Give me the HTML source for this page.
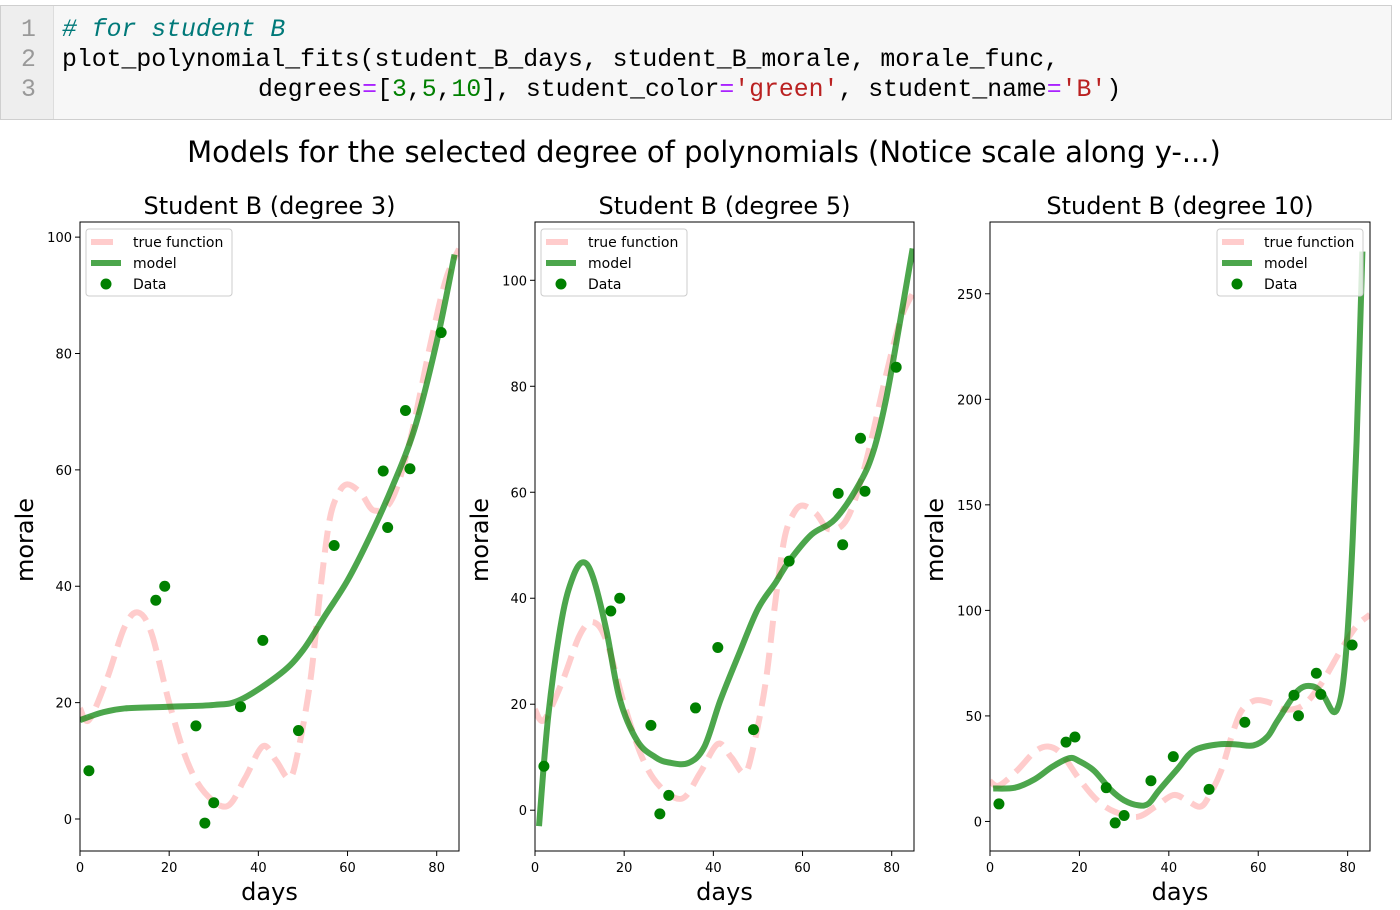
<!DOCTYPE html>
<html><head><meta charset="utf-8">
<style>
body{margin:0;width:1400px;height:910px;background:#fff;overflow:hidden;font-family:"DejaVu Sans","Liberation Sans",sans-serif;}
#cell{position:absolute;left:0;top:5px;width:1390px;height:113px;background:#f7f7f7;border:1px solid #cfcfcf;}
#gutter{position:absolute;left:0;top:0;width:52px;height:113px;background:#eeeeee;border-right:1px solid #ddd;}
.ln{position:absolute;left:20px;font-family:"Liberation Mono",monospace;font-size:24.8px;color:#999;}
.code{position:absolute;font-family:"Liberation Mono",monospace;font-size:24.8px;white-space:pre;color:#000;}
.c{color:#007979;font-style:italic}.p{color:#aa22ff}.g{color:#008000}.r{color:#ba2121}
</style></head><body>
<div id="cell">
<div id="gutter">
<div class="ln" style="top:10px">1</div><div class="ln" style="top:40px">2</div><div class="ln" style="top:70px">3</div></div>
<div class="code" style="left:61px;top:10px"><span class="c"># for student B</span></div>
<div class="code" style="left:61px;top:40px">plot_polynomial_fits(student_B_days, student_B_morale, morale_func,</div>
<div class="code" style="left:257px;top:70px">degrees<span class="p">=</span>[<span class="g">3</span>,<span class="g">5</span>,<span class="g">10</span>], student_color<span class="p">=</span><span class="r">'green'</span>, student_name<span class="p">=</span><span class="r">'B'</span>)</div>
</div>
<svg id="fig" width="1400" height="910" style="position:absolute;left:0;top:0">
<text x="704" y="162" font-size="29" text-anchor="middle">Models for the selected degree of polynomials (Notice scale along y-...)</text>
</svg>
<script>
const days=[2,17,19,26,28,30,36,41,49,57,68,69,73,74,81];
const morale=[8.3,37.6,40,16,-0.7,2.8,19.3,30.7,15.2,47,59.8,50.1,70.2,60.2,83.6];
const trueX=[0,2,6,10,13,16,20,24,28,33,37,41,44,47,49,51.7,54,56,58,60,63,66,70,74,78.7,82,85];
const trueY=[19,17,24,33,35.5,32,20,10,4.5,2.2,7,12.5,10,7,12,24,40,51.5,56,57.5,56,53,55,65,82,92.6,98];
const m3X=[0,5,10,20,30,36,45,50,55,60,65,70,75,80,84];
const m3Y=[17,18.3,19,19.3,19.6,20.5,25,29,35,41,48.5,57,67,82,97];
const m5X=[0.9,3,6,8.5,10.8,13,16,19,23,27,30,34.4,38,41.6,46,50,54,57,62,67.4,73,76,78.6,81,84.7];
const m5Y=[-3,18,36,44,46.8,44,34,21,13,10,9,8.9,12,20.8,30,38,43,47,52,55,62,68,77,88,106];
const m10X=[0.7,5.6,10,14,17.8,20,23.3,27,30,33.3,35.5,37.8,42,45.6,51,55,58.9,62,64.4,68.9,72.2,74.5,76.7,78,79,80,81,82,83.3];
const m10Y=[15.6,16,20,26,30,28.5,24,15,10,7.6,8.5,14.7,25,33.6,36.5,36.5,36,40,48,62,64,60,52,55,66,90,128,180,270];
const xTicks=[0,20,40,60,80];
const panels=[
 {name:'degree-3',title:'Student B (degree 3)',x0:80,x1:459,ymin:-5.5,ymax:102.6,yt:[0,20,40,60,80,100],mx:m3X,my:m3Y,legend:86},
 {name:'degree-5',title:'Student B (degree 5)',x0:535,x1:914,ymin:-7.7,ymax:111,yt:[0,20,40,60,80,100],mx:m5X,my:m5Y,legend:541},
 {name:'degree-10',title:'Student B (degree 10)',x0:990,x1:1370,ymin:-14,ymax:284,yt:[0,50,100,150,200,250],mx:m10X,my:m10Y,legend:1217}];
const NS='http://www.w3.org/2000/svg';
const svg=document.getElementById('fig');
function mk(tag,attrs,parent){const e=document.createElementNS(NS,tag);for(const k in attrs)e.setAttribute(k,attrs[k]);(parent||svg).appendChild(e);return e;}
function smooth(X,Y,sx,sy){
 const P=X.map((x,i)=>[sx(x),sy(Y[i])]);let d='M'+P[0][0]+','+P[0][1];
 for(let i=0;i<P.length-1;i++){const p0=P[Math.max(0,i-1)],p1=P[i],p2=P[i+1],p3=P[Math.min(P.length-1,i+2)];
  d+=' C'+(p1[0]+(p2[0]-p0[0])/6)+','+(p1[1]+(p2[1]-p0[1])/6)+' '+(p2[0]-(p3[0]-p1[0])/6)+','+(p2[1]-(p3[1]-p1[1])/6)+' '+p2[0]+','+p2[1];}
 return d;}
const yTop=222,yBot=851;
panels.forEach(pn=>{
 const sx=v=>pn.x0+(v-0)/(85-0)*(pn.x1-pn.x0);
 const sy=v=>yBot-(v-pn.ymin)/(pn.ymax-pn.ymin)*(yBot-yTop);
 const g=mk('g',{});
 
 
 const cp='clip-'+pn.name;
 const cl=mk('clipPath',{id:cp},g);mk('rect',{x:pn.x0,y:yTop,width:pn.x1-pn.x0,height:yBot-yTop},cl);
 const t=mk('text',{x:(pn.x0+pn.x1)/2,y:214,'font-size':24,'text-anchor':'middle'},g);t.textContent=pn.title;
 
 
 const tl=mk('path',{d:smooth(trueX,trueY,sx,sy),fill:'none',stroke:'rgba(255,0,0,0.2)','stroke-width':6,'stroke-dasharray':'22,10','clip-path':'url(#'+cp+')'},g);
 
 
 const ml=mk('path',{d:smooth(pn.mx,pn.my,sx,sy),fill:'none',stroke:'rgba(0,128,0,0.7)','stroke-width':6,'clip-path':'url(#'+cp+')'},g);
 
 
 days.forEach((d,i)=>{const c=mk('circle',{cx:sx(d),cy:sy(morale[i]),r:5.5,fill:'#008000'},g);
  
  });
 mk('rect',{x:pn.x0,y:yTop,width:pn.x1-pn.x0,height:yBot-yTop,fill:'none',stroke:'#000','stroke-width':1},g);
 xTicks.forEach(v=>{const x=sx(v);mk('line',{x1:x,x2:x,y1:yBot,y2:yBot+5,stroke:'#000'},g);
  const tx=mk('text',{x:x,y:yBot+21,'font-size':13,'text-anchor':'middle'},g);tx.textContent=v;
  
  });
 pn.yt.forEach(v=>{const y=sy(v);mk('line',{x1:pn.x0-5,x2:pn.x0,y1:y,y2:y,stroke:'#000'},g);
  const ty=mk('text',{x:pn.x0-8,y:y+5,'font-size':13,'text-anchor':'end'},g);ty.textContent=v;
  
  });
 const xl=mk('text',{x:(pn.x0+pn.x1)/2,y:900,'font-size':24,'text-anchor':'middle'},g);xl.textContent='days';
 
 
 const yx=pn.x0-47;
 const yl=mk('text',{x:yx,y:540,'font-size':24,'text-anchor':'middle',transform:'rotate(-90 '+yx+' 540)'},g);yl.textContent='morale';
 
 
 const lg=mk('g',{},g);
 
 
 const L=pn.legend;
 mk('rect',{x:L,y:229,width:146,height:67,fill:'rgba(255,255,255,0.8)',stroke:'#ccc',rx:3},lg);
 mk('line',{x1:L+5,x2:L+35,y1:242,y2:242,stroke:'rgba(255,0,0,0.2)','stroke-width':6,'stroke-dasharray':'22,10'},lg);
 mk('line',{x1:L+5,x2:L+35,y1:263,y2:263,stroke:'rgba(0,128,0,0.7)','stroke-width':6},lg);
 mk('circle',{cx:L+20,cy:284,r:5.5,fill:'#008000'},lg);
 [['true function',247],['model',268],['Data',289]].forEach(a=>{const e=mk('text',{x:L+47,y:a[1],'font-size':14},lg);e.textContent=a[0];
  
  });
});
</script>
</body></html>
